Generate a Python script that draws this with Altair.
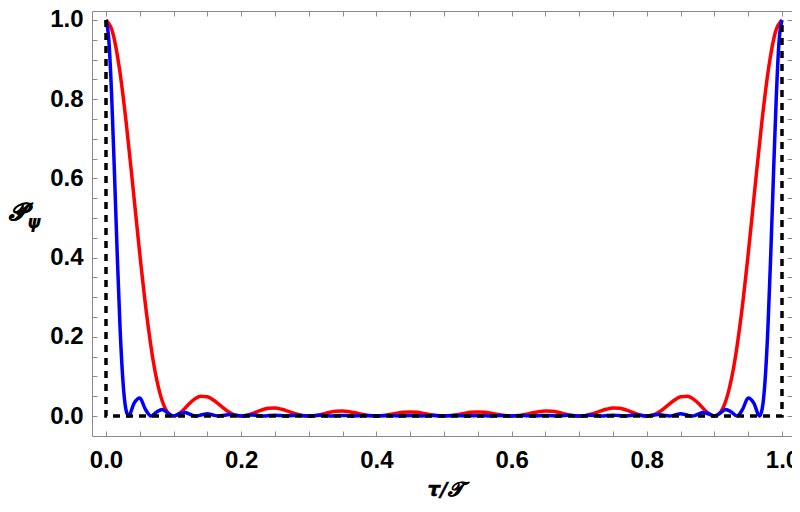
import altair as alt
import pandas as pd

# ---------------- data ----------------
red_x = [0.00, 0.01, 0.02, 0.03, 0.04, 0.05, 0.06, 0.07, 0.08, 0.09,
         0.10, 0.11, 0.12, 0.13, 0.14, 0.15, 0.16, 0.17, 0.18, 0.19,
         0.20, 0.21, 0.22, 0.23, 0.24, 0.25, 0.26, 0.27, 0.28, 0.29,
         0.30, 0.31, 0.32, 0.33, 0.34, 0.35, 0.36, 0.37, 0.38, 0.39,
         0.40, 0.41, 0.42, 0.43, 0.44, 0.45, 0.46, 0.47, 0.48, 0.49,
         0.50, 0.51, 0.52, 0.53, 0.54, 0.55, 0.56, 0.57, 0.58, 0.59,
         0.60, 0.61, 0.62, 0.63, 0.64, 0.65, 0.66, 0.67, 0.68, 0.69,
         0.70, 0.71, 0.72, 0.73, 0.74, 0.75, 0.76, 0.77, 0.78, 0.79,
         0.80, 0.81, 0.82, 0.83, 0.84, 0.85, 0.86, 0.87, 0.88, 0.89,
         0.90, 0.91, 0.92, 0.93, 0.94, 0.95, 0.96, 0.97, 0.98, 0.99,
         1.00]
red_y = [1.0, 0.968, 0.876, 0.739, 0.576, 0.409, 0.258, 0.1375, 0.0559, 0.0123,
         0.0, 0.0083, 0.0255, 0.0415, 0.0499, 0.0485, 0.039, 0.0253, 0.012, 0.003,
         0.0, 0.0025, 0.0085, 0.015, 0.0193, 0.02, 0.017, 0.0116, 0.0058, 0.0015,
         0.0, 0.0014, 0.0048, 0.0088, 0.0118, 0.0126, 0.011, 0.0078, 0.004, 0.0011,
         0.0, 0.001, 0.0037, 0.0069, 0.0094, 0.0103, 0.0092, 0.0066, 0.0035, 0.001,
         0.0, 0.001, 0.0035, 0.0066, 0.0092, 0.0103, 0.0094, 0.0069, 0.0037, 0.001,
         0.0, 0.0011, 0.004, 0.0078, 0.011, 0.0126, 0.0118, 0.0088, 0.0048, 0.0014,
         0.0, 0.0015, 0.0058, 0.0116, 0.017, 0.02, 0.0193, 0.015, 0.0085, 0.0025,
         0.0, 0.003, 0.012, 0.0253, 0.039, 0.0485, 0.0499, 0.0415, 0.0255, 0.0083,
         0.0, 0.0123, 0.0559, 0.1375, 0.258, 0.409, 0.576, 0.739, 0.876, 0.968,
         1.0]

blue_x = [0.0, 0.00417, 0.00833, 0.0125, 0.01667, 0.02083, 0.025, 0.02917, 0.03333,
          0.04167, 0.05, 0.05833, 0.06667,
          0.075, 0.08333, 0.09167, 0.1,
          0.10833, 0.11667, 0.125, 0.13333,
          0.14167, 0.15, 0.15833, 0.16667,
          0.175, 0.18333, 0.19167, 0.2,
          0.20833, 0.21667, 0.225, 0.23333,
          0.24167, 0.25, 0.25833, 0.26667,
          0.275, 0.28333, 0.29167, 0.3,
          0.30833, 0.31667, 0.325, 0.33333,
          0.34167, 0.35, 0.35833, 0.36667,
          0.375, 0.38333, 0.39167, 0.4,
          0.40833, 0.41667, 0.425, 0.43333,
          0.44167, 0.45, 0.45833, 0.46667,
          0.475, 0.48333, 0.49167, 0.5,
          0.50833, 0.51667, 0.525, 0.53333,
          0.54167, 0.55, 0.55833, 0.56667,
          0.575, 0.58333, 0.59167, 0.6,
          0.60833, 0.61667, 0.625, 0.63333,
          0.64167, 0.65, 0.65833, 0.66667,
          0.675, 0.68333, 0.69167, 0.7,
          0.70833, 0.71667, 0.725, 0.73333,
          0.74167, 0.75, 0.75833, 0.76667,
          0.775, 0.78333, 0.79167, 0.8,
          0.80833, 0.81667, 0.825, 0.83333,
          0.84167, 0.85, 0.85833, 0.86667,
          0.875, 0.88333, 0.89167, 0.9,
          0.90833, 0.91667, 0.925, 0.93333,
          0.94167, 0.95, 0.95833, 0.96667,
          0.97083, 0.975, 0.97917, 0.98333, 0.9875, 0.99167, 0.99583, 1.0]
blue_y = [1.0, 0.950, 0.811, 0.615, 0.406, 0.222, 0.090, 0.0194, 0.0,
          0.0326, 0.0454, 0.0167, 0.0,
          0.0102, 0.0166, 0.0069, 0.0,
          0.0050, 0.0087, 0.0038, 0.0,
          0.0030, 0.0054, 0.0024, 0.0,
          0.0020, 0.0038, 0.0017, 0.0,
          0.0015, 0.0028, 0.0013, 0.0,
          0.0012, 0.0022, 0.0011, 0.0,
          0.0010, 0.0018, 0.0009, 0.0,
          0.0008, 0.0016, 0.0008, 0.0,
          0.0007, 0.0014, 0.0007, 0.0,
          0.0007, 0.0013, 0.0006, 0.0,
          0.0006, 0.0012, 0.0006, 0.0,
          0.0006, 0.0011, 0.0006, 0.0,
          0.0006, 0.0011, 0.0006, 0.0,
          0.0006, 0.0011, 0.0006, 0.0,
          0.0006, 0.0011, 0.0006, 0.0,
          0.0006, 0.0012, 0.0006, 0.0,
          0.0006, 0.0013, 0.0007, 0.0,
          0.0007, 0.0014, 0.0007, 0.0,
          0.0008, 0.0016, 0.0008, 0.0,
          0.0009, 0.0018, 0.0010, 0.0,
          0.0011, 0.0022, 0.0012, 0.0,
          0.0013, 0.0028, 0.0015, 0.0,
          0.0017, 0.0038, 0.0020, 0.0,
          0.0024, 0.0054, 0.0030, 0.0,
          0.0038, 0.0087, 0.0050, 0.0,
          0.0069, 0.0166, 0.0102, 0.0,
          0.0167, 0.0454, 0.0326, 0.0,
          0.0194, 0.090, 0.222, 0.406, 0.615, 0.811, 0.950, 1.0]

step_x = [0.0, 0.0, 1.0, 1.0]
step_y = [1.0, 0.0, 0.0, 1.0]

tick_values = [0.0, 0.05, 0.1, 0.15, 0.2, 0.25, 0.3, 0.35, 0.4, 0.45, 0.5,
               0.55, 0.6, 0.65, 0.7, 0.75, 0.8, 0.85, 0.9, 0.95, 1.0]

x_title = "τ/𝒯"
y_title_main = "𝒫"
y_title_sub = "ψ"

# ---------------- chart ----------------
red_df = pd.DataFrame({"x": red_x, "y": red_y})
blue_df = pd.DataFrame({"x": blue_x, "y": blue_y})
step_df = pd.DataFrame({"x": step_x, "y": step_y, "i": list(range(len(step_x)))})

xs = alt.Scale(domain=[-0.0207, 1.0148], nice=False, zero=False)
ys = alt.Scale(domain=[-0.0505, 1.0227], nice=False, zero=False)

label_expr = "(round(datum.value*100) % 20 == 0) ? format(datum.value, '.1f') : ''"
common = dict(values=tick_values, domain=False, grid=False, tickSize=5, offset=-5,
              tickColor="#8a8a8a", tickWidth=1, title=None)

ax_bottom = alt.Axis(orient="bottom", labelExpr=label_expr, labelFont="Liberation Sans",
                     labelFontWeight="bold", labelFontSize=24, labelPadding=12,
                     labelColor="black", labelOverlap=False, labelFlush=False, **common)
ax_left = alt.Axis(orient="left", labelExpr=label_expr, labelFont="Liberation Sans",
                   labelFontWeight="bold", labelFontSize=24, labelPadding=9,
                   labelColor="black", labelOverlap=False, labelFlush=False, **common)
ax_top = alt.Axis(orient="top", labels=False, **common)
ax_right = alt.Axis(orient="right", labels=False, **common)

red = alt.Chart(red_df).mark_line(color="#ff0000", strokeWidth=3.5, interpolate="monotone",
                                  strokeJoin="round").encode(
    x=alt.X("x:Q", scale=xs, axis=ax_bottom),
    y=alt.Y("y:Q", scale=ys, axis=ax_left),
)
blue = alt.Chart(blue_df).mark_line(color="#0000ff", strokeWidth=3.5, interpolate="monotone",
                                    strokeJoin="round").encode(
    x=alt.X("x:Q", scale=xs, axis=None),
    y=alt.Y("y:Q", scale=ys, axis=None),
)
step = alt.Chart(step_df).mark_line(color="black", strokeWidth=3.5, strokeDash=[7, 6]).encode(
    x=alt.X("x:Q", scale=xs, axis=ax_top),
    y=alt.Y("y:Q", scale=ys, axis=ax_right),
    order=alt.Order("i:Q"),
)

label_df = pd.DataFrame({"t": [0]})
p_text = alt.Chart(label_df).mark_text(font="DejaVu Sans", fontSize=24, fontWeight="bold",
                                       fontStyle="italic", align="center", baseline="middle",
                                       color="black", stroke="black", strokeWidth=0.8).encode(
    x=alt.value(-75), y=alt.value(202), text=alt.value(y_title_main))
psi_text = alt.Chart(label_df).mark_text(font="DejaVu Sans", fontSize=17, fontWeight="bold",
                                         fontStyle="italic", align="center", baseline="middle",
                                         color="black").encode(
    x=alt.value(-58), y=alt.value(212), text=alt.value(y_title_sub))
xt_text = alt.Chart(label_df).mark_text(font="DejaVu Sans", fontSize=20, fontWeight="bold",
                                        fontStyle="italic", align="center", baseline="middle",
                                        color="black", stroke="black", strokeWidth=0.4).encode(
    x=alt.value(353), y=alt.value(479), text=alt.value(x_title))

chart = alt.layer(red, blue, step, p_text, psi_text, xt_text).resolve_axis(
    x="independent", y="independent"
).properties(
    width=700, height=425,
    autosize=alt.AutoSizeParams(type="none"),
    padding={"left": 84, "top": 3, "right": 0, "bottom": 68},
).configure_view(stroke="#8a8a8a", strokeWidth=1)

chart.save("out.html", embed_options={"renderer": "svg", "actions": False})
